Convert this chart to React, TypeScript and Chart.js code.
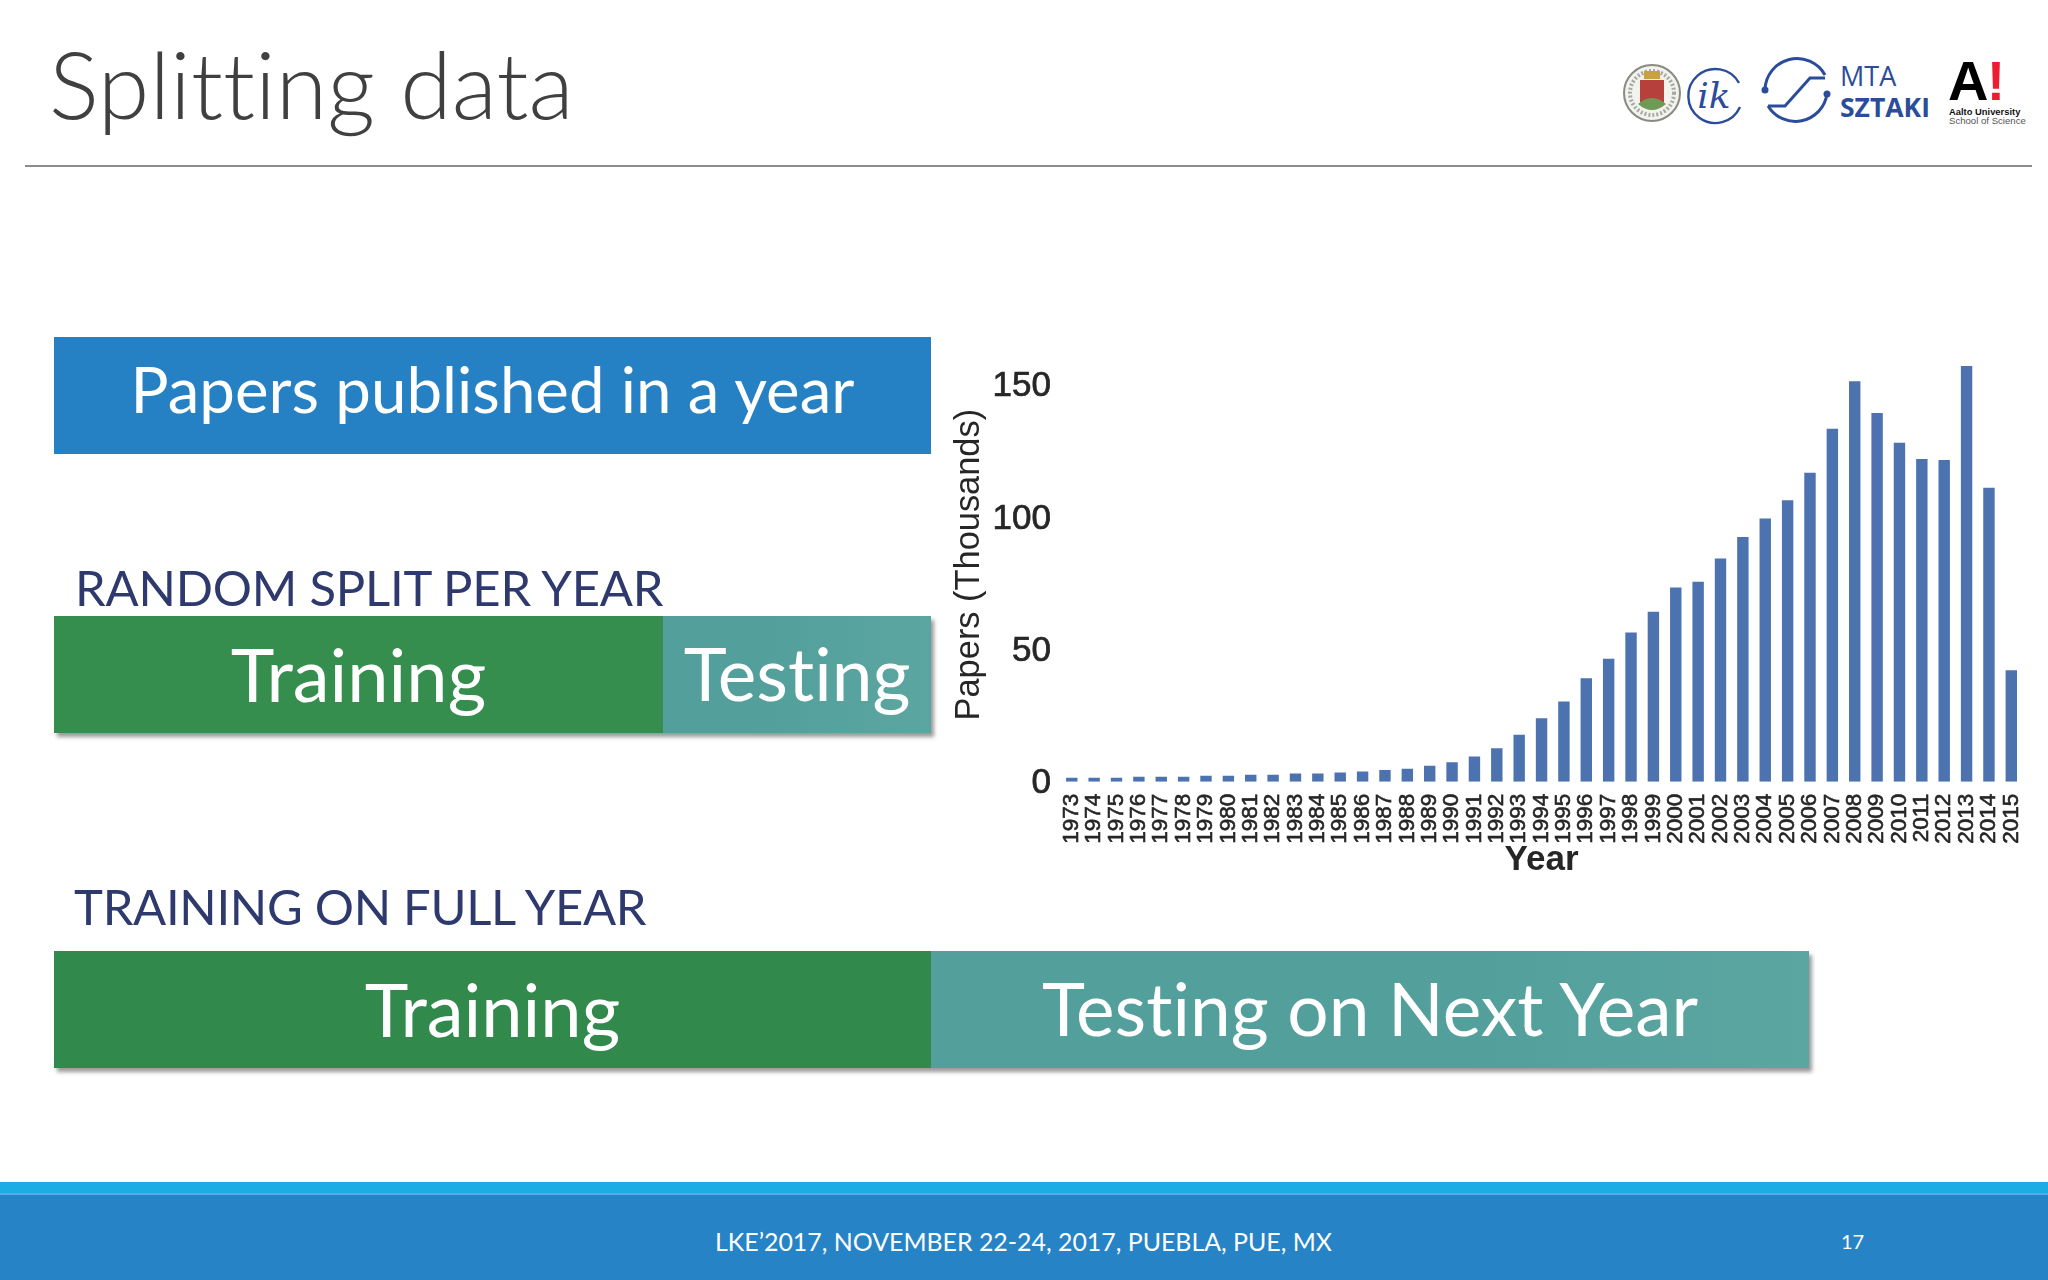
import React, { useEffect, useRef } from "react";
import Chart from "chart.js/auto";

const years = [
  "1973", "1974", "1975", "1976", "1977", "1978", "1979", "1980", "1981", "1982", "1983",
  "1984", "1985", "1986", "1987", "1988", "1989", "1990", "1991", "1992", "1993", "1994",
  "1995", "1996", "1997", "1998", "1999", "2000", "2001", "2002", "2003", "2004", "2005",
  "2006", "2007", "2008", "2009", "2010", "2011", "2012", "2013", "2014", "2015",
];
const papers = [
  1.5, 1.5, 1.5, 1.9, 1.9, 1.9, 2.3, 2.3, 2.7, 2.7, 3.1,
  3.1, 3.5, 3.9, 4.5, 4.9, 6.1, 7.4, 9.6, 12.7, 17.8, 24.0,
  30.3, 39.1, 46.5, 56.4, 64.2, 73.4, 75.5, 84.3, 92.4, 99.4, 106.3,
  116.7, 133.3, 151.3, 139.3, 128.0, 121.9, 121.5, 157.0, 111.0, 42.1,
];
const yTicks = [0, 50, 100, 150];

const SLIDE_FONT = "Lato, 'Noto Sans', sans-serif";
const CHART_FONT = "'Liberation Sans', Arial, sans-serif";
const INK = "#262626";
const TEAL = "linear-gradient(90deg, #5FA9A4 0%, #529F9B 30%, #529F9B 80%, #5CA6A1 100%)";

// one positioned text block on the slide
const Label = ({ x, y, w, size, color, weight, spacing, children }: any) => (
  <div
    style={{
      position: "absolute",
      left: x,
      top: y,
      width: w,
      textAlign: w ? "center" : "left",
      fontFamily: SLIDE_FONT,
      fontSize: size,
      fontWeight: weight || 400,
      fontVariantLigatures: "none",
      letterSpacing: spacing || 0,
      lineHeight: 1,
      whiteSpace: "nowrap",
      color,
    }}
  >
    {children}
  </div>
);

const Box = ({ x, y, w, h, color, shadow }: any) => (
  <div
    style={{
      position: "absolute",
      left: x,
      top: y,
      width: w,
      height: h,
      background: color,
      boxShadow: shadow ? "3px 4px 4px rgba(0,0,0,0.4)" : "none",
    }}
  />
);

const Logos = () => (
  <svg width={448} height={120} style={{ position: "absolute", left: 1600, top: 40 }}>
    <circle cx={52} cy={53} r={28} fill="#f2f2ee" stroke="#8a8a84" strokeWidth={2} />
    <circle cx={52} cy={53} r={22} fill="none" stroke="#a9a9a4" strokeWidth={4} strokeDasharray="2 2" />
    <path d="M40 40 H64 V62 Q52 74 40 62 Z" fill="#b5403c" />
    <path d="M38 64 Q52 52 66 64 Q52 76 38 64 Z" fill="#6f9a55" />
    <rect x={44} y={31} width={16} height={8} fill="#c9a23f" />
    <path d="M139 43 A27 27 0 1 0 140 67" fill="none" stroke="#2b4c9b" strokeWidth={2.4} />
    <text x={114} y={68} textAnchor="middle" fontFamily="'DejaVu Serif', serif" fontStyle="italic" fontSize={36} fill="#2b4c9b">ik</text>
    <path d="M165 50 A32 32 0 0 1 225 35" fill="none" stroke="#2b4c9b" strokeWidth={3} />
    <path d="M227 54 A32 32 0 0 1 168 66" fill="none" stroke="#2b4c9b" strokeWidth={3} />
    <path d="M168 66 H185 L210 38 H225" fill="none" stroke="#2b4c9b" strokeWidth={3} />
    <circle cx={165} cy={50} r={3.5} fill="#2b4c9b" />
    <circle cx={227} cy={54} r={3.5} fill="#2b4c9b" />
    <text x={240} y={46} fontFamily="'Open Sans', sans-serif" fontSize={27} fill="#2b4c9b">MTA</text>
    <text x={240} y={77} fontFamily="'Open Sans', sans-serif" fontWeight={700} fontSize={27} fill="#2b4c9b" textLength={90} lengthAdjust="spacingAndGlyphs">SZTAKI</text>
    <text x={348} y={60} fontFamily="'Liberation Sans', sans-serif" fontWeight={700} fontSize={56} fill="#000">A</text>
    <text x={387} y={60} fontFamily="'Liberation Sans', sans-serif" fontWeight={700} fontSize={56} fill="#ee1c30" textLength={18} lengthAdjust="spacingAndGlyphs">!</text>
    <text x={349} y={75} fontFamily="'Liberation Sans', sans-serif" fontWeight={700} fontSize={9.4} fill="#111">Aalto University</text>
    <text x={349} y={84} fontFamily="'Liberation Sans', sans-serif" fontSize={9.6} fill="#555">School of Science</text>
  </svg>
);

const PapersChart = () => {
  const chartRef = useRef<HTMLCanvasElement>(null);

  useEffect(() => {
    if (!chartRef.current) return;
    const chart = new Chart(chartRef.current, {
      type: "bar",
      data: {
        labels: years,
        datasets: [
          {
            label: "Papers",
            data: papers,
            backgroundColor: "#4C72B0",
            barPercentage: 0.51,
            categoryPercentage: 1,
          },
        ],
      },
      options: {
        animation: false,
        responsive: false,
        devicePixelRatio: 1,
        layout: { padding: { top: 7.5, right: 25.5, bottom: 0, left: 0 } },
        plugins: { legend: { display: false }, tooltip: { enabled: false } },
        scales: {
          x: {
            grid: { display: false, drawTicks: false },
            border: { display: false },
            afterFit: (scale: any) => {
              scale.height = 118.2;
              scale.paddingLeft = 0;
              scale.paddingRight = 0;
            },
            ticks: {
              autoSkip: false,
              minRotation: 90,
              maxRotation: 90,
              padding: 12,
              color: INK,
              textStrokeColor: INK,
              textStrokeWidth: 0.6,
              font: { family: CHART_FONT, size: 22.5 },
            },
            title: {
              display: true,
              text: "Year",
              color: INK,
              font: { family: CHART_FONT, size: 35, weight: "bold" },
              padding: { top: 0, bottom: 19 },
            },
          },
          y: {
            min: 0,
            max: 164,
            grid: { display: false, drawTicks: false },
            border: { display: false },
            // the axis runs past its top tick, so only the round values are kept
            afterBuildTicks: (scale: any) => {
              scale.ticks = yTicks.map((value) => ({ value }));
            },
            afterFit: (scale: any) => {
              scale.width = 120.6;
              scale.paddingTop = 0;
              scale.paddingBottom = 0;
            },
            ticks: {
              padding: 9.6,
              labelOffset: 2,
              color: INK,
              textStrokeColor: INK,
              textStrokeWidth: 0.7,
              font: { family: CHART_FONT, size: 35 },
            },
            title: {
              display: true,
              text: "Papers (Thousands)",
              color: INK,
              font: { family: CHART_FONT, size: 34.4 },
              padding: { top: 9, bottom: 0 },
            },
          },
        },
      },
    });
    return () => chart.destroy();
  }, []);

  return (
    <canvas
      ref={chartRef}
      width={1108}
      height={560}
      style={{ position: "absolute", left: 940, top: 340, width: 1108, height: 560 }}
    />
  );
};

const App = () => (
  <div style={{ position: "absolute", left: 0, top: 0, width: 2048, height: 1280, overflow: "hidden", background: "#fff" }}>
    <Label x={49} y={37} size={93.5} color="#404040" weight={300}>Splitting data</Label>
    <Logos />
    <div style={{ position: "absolute", left: 25, top: 165, width: 2007, height: 2, background: "#8c8c8c" }} />

    <Box x={54} y={337} w={877} h={117} color="#2581C4" />
    <Label x={54} y={357} w={877} size={63.6} color="#fff">Papers published in a year</Label>

    <Label x={75} y={563} size={49} color="#2E3A6E" spacing={-0.2}>RANDOM SPLIT PER YEAR</Label>
    <Box x={54} y={616} w={877} h={117} color={TEAL} shadow />
    <Box x={54} y={616} w={609} h={117} color="#358E4E" />
    <Label x={54} y={637} w={609} size={74} color="#fff">Training</Label>
    <Label x={663} y={637} w={268} size={73} color="#fff">Testing</Label>

    <Label x={74} y={882} size={49} color="#2E3A6E" spacing={-0.3}>TRAINING ON FULL YEAR</Label>
    <Box x={54} y={951} w={1755} h={117} color={TEAL} shadow />
    <Box x={54} y={951} w={877} h={117} color="#318A4B" />
    <Label x={54} y={972} w={877} size={74} color="#fff">Training</Label>
    <Label x={931} y={972} w={878} size={73} color="#fff">Testing on Next Year</Label>

    <PapersChart />

    <div style={{ position: "absolute", left: 0, top: 1182, width: 2048, height: 11, background: "#1CADE4" }} />
    <div style={{ position: "absolute", left: 0, top: 1193, width: 2048, height: 2, background: "#5BA8EA" }} />
    <div style={{ position: "absolute", left: 0, top: 1195, width: 2048, height: 85, background: "#2683C6" }} />
    <Label x={715} y={1229} size={24.9} color="#fff">LKE’2017, NOVEMBER 22-24, 2017, PUEBLA, PUE, MX</Label>
    <Label x={1841} y={1231} size={20} color="#fff">17</Label>
  </div>
);

export default App;
